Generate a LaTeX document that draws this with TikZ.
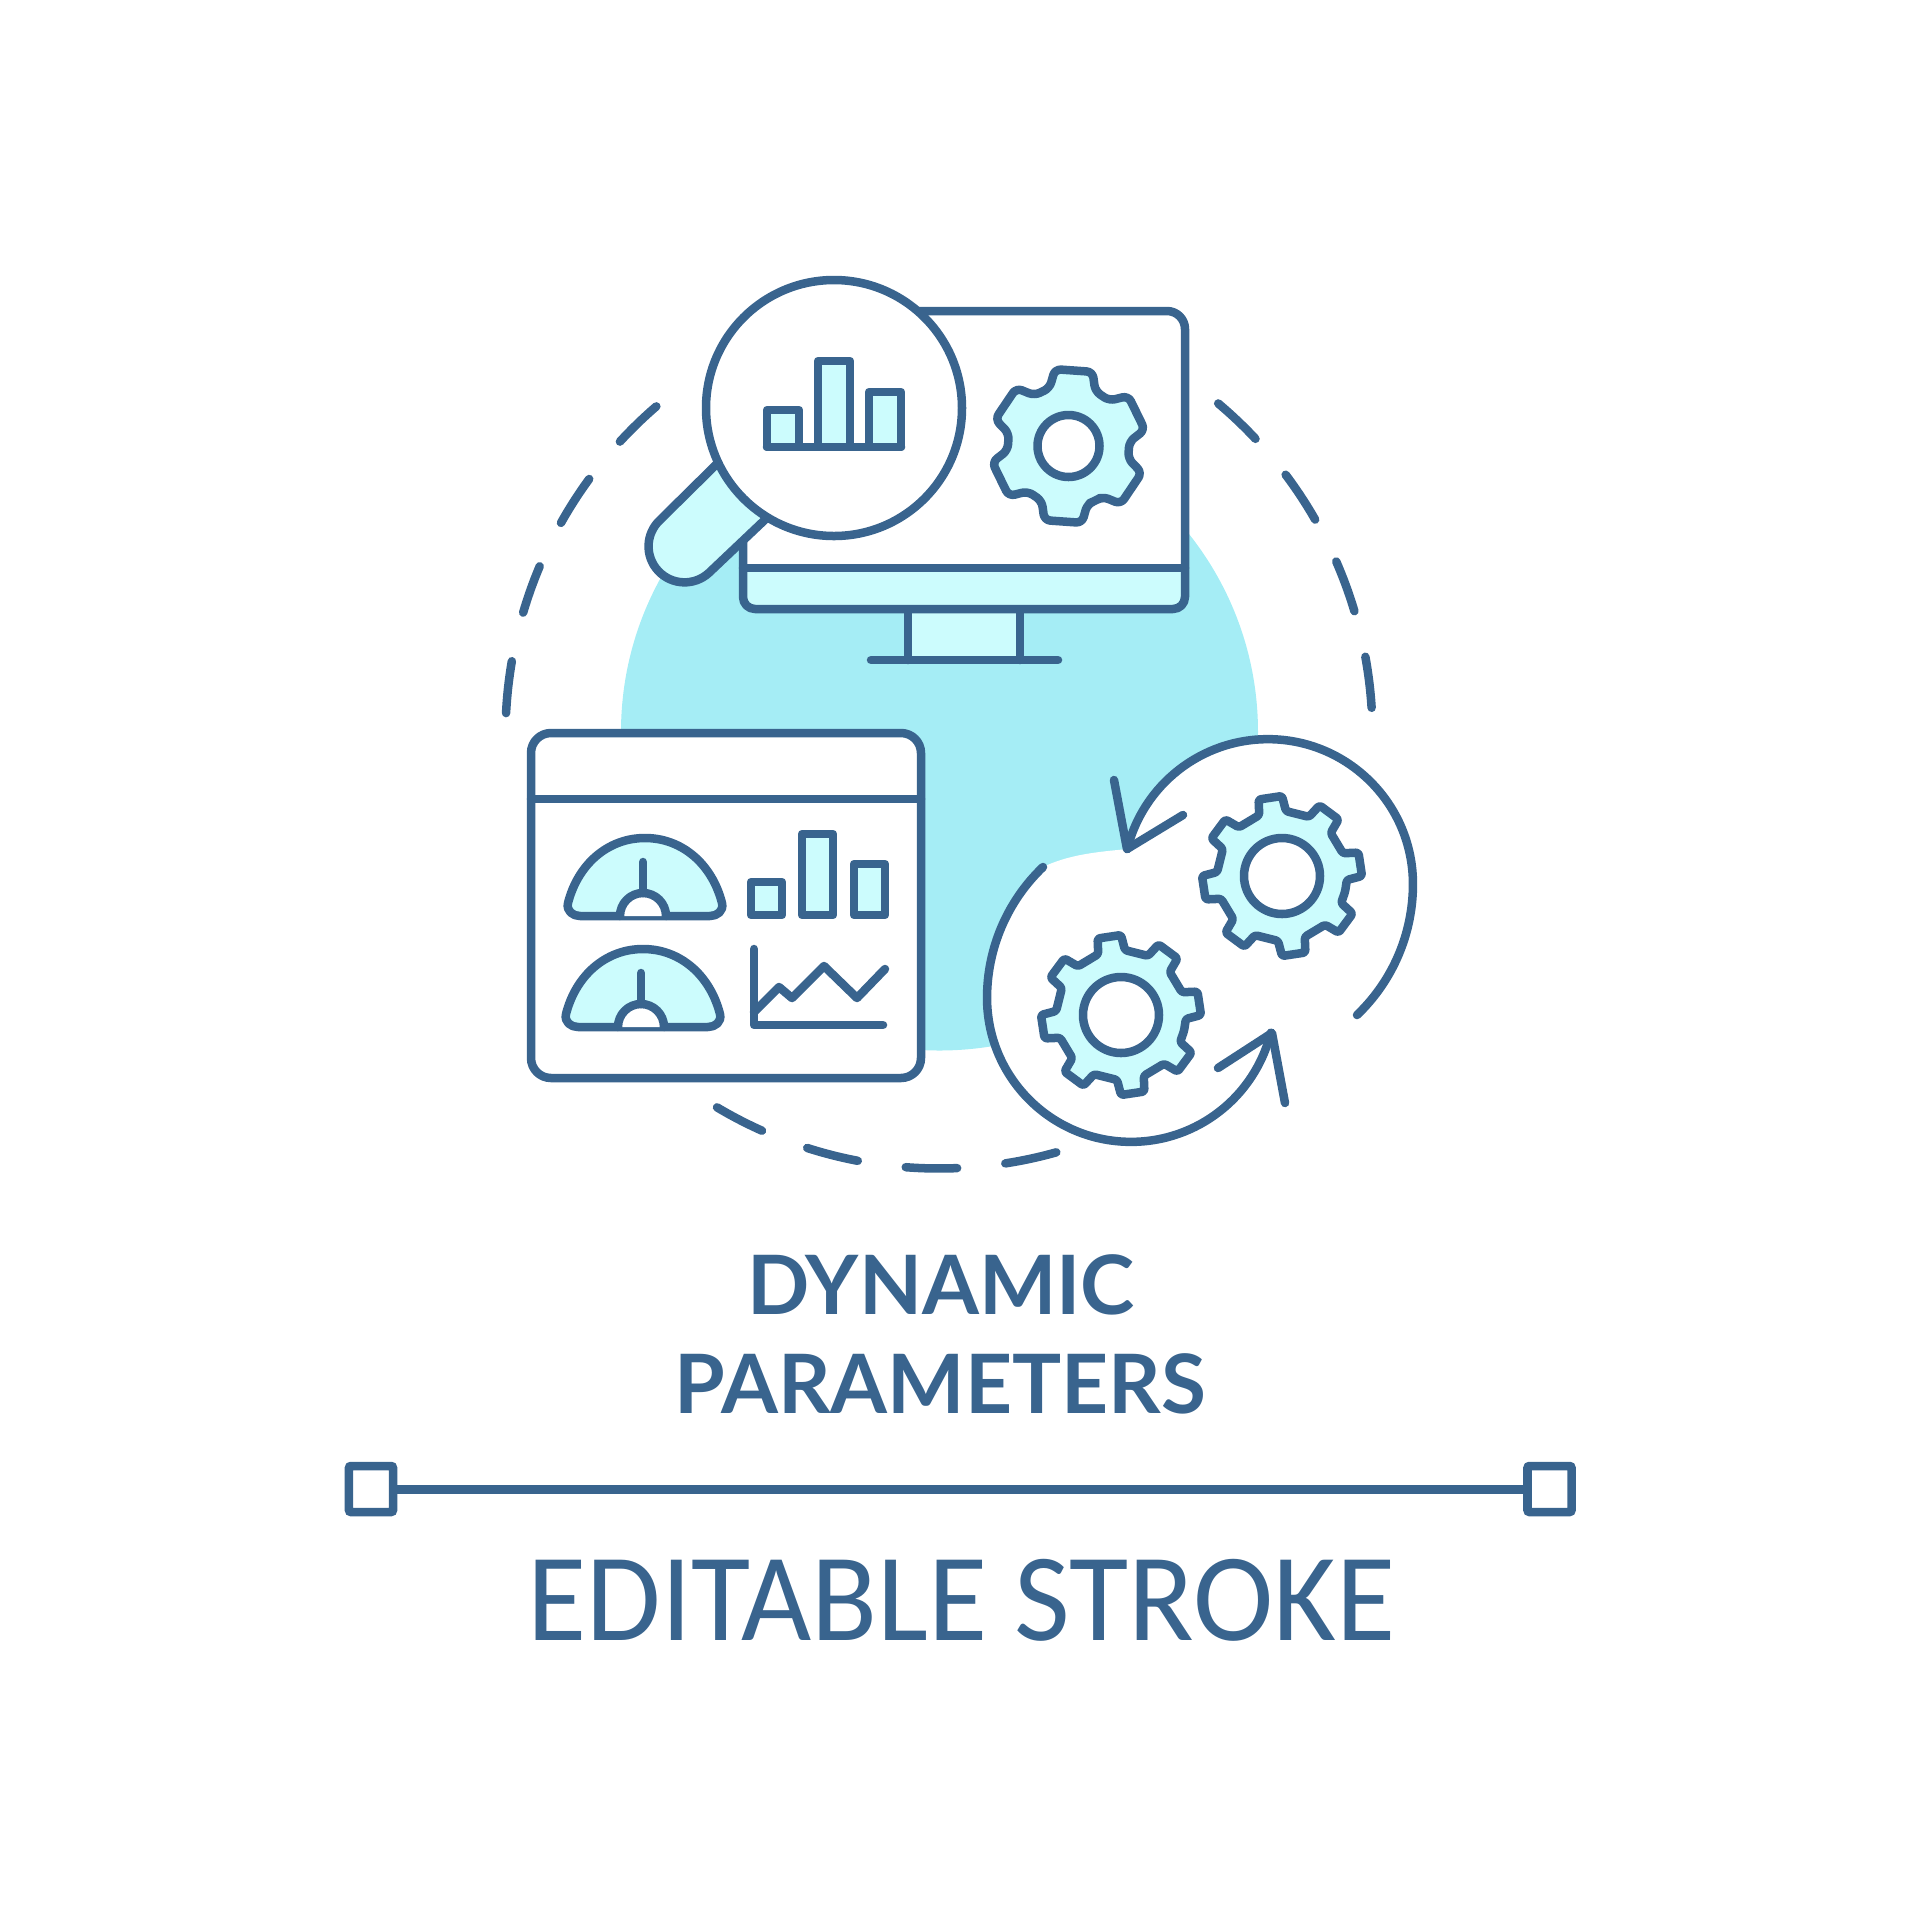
\documentclass[tikz,border=0pt]{standalone}
\usepackage{fontspec}
\setmainfont{Lato}
\newfontfamily\notefont[FakeStretch=0.968]{Carlito}
\definecolor{inkblue}{HTML}{39648E}
\definecolor{softcyan}{HTML}{CCFCFD}
\definecolor{blobcyan}{HTML}{A5EDF5}
\newcommand{\screenpath}{(743,480) [rounded corners=0.18cm] -- (743,311) -- (1185,311) -- (1185,480) [rounded corners=0.12cm] -- (1185,609) -- (743,609) -- cycle}
\newcommand{\lowerarc}{arc[start angle=226.3,end angle=180,radius=181] arc[start angle=180,end angle=14,radius=144]}
\newcommand{\upperarc}{arc[start angle=46.3,end angle=0,radius=181] arc[start angle=0,end angle=-166,radius=145]}
\tikzset{
 ln/.style
  = {draw=inkblue, line width=0.085cm, line cap=round, line join=round},
 bar/.style
  = {ln, fill=softcyan, line cap=butt},
 grip/.style
  = {rectangle, draw=inkblue, line width=0.085cm, fill=white, inner sep=0pt,
     minimum width=0.44cm, minimum height=0.46cm, rounded corners=0.02cm},
 heading/.style
  = {anchor=base, text=inkblue, inner sep=0pt, font=\fontsize{23.3}{28}\selectfont\bfseries},
 note/.style
  = {anchor=base, text=inkblue, inner sep=0pt, font=\fontsize{35.6}{40}\selectfont\notefont},
}

\begin{document}
\begin{tikzpicture}[x=0.01cm,y=-0.01cm]
\useasboundingbox (0,0) rectangle (1920,1920);

% Backdrop
\fill[blobcyan] (939.5,732) circle[radius=318.5];
\fill[white] (1043,867) \lowerarc -- (1357,1015) \upperarc
    .. controls (1095,852) and (1068,855) .. (1043,867) -- cycle;

% Dashed ring
\foreach \sa/\ea in {182.9/189.8,196.4/202.9,209.3/216.2,222.6/229.3,
    310.1/316.9,323.1/330.2,336.4/343.4,349.6/356.4,
    120.8/114.1,107.7/100.8,94.4/87.6,81.2/74.3}
    \draw[ln] (939,735) ++(\sa:433.5) arc[start angle=\sa,end angle=\ea,radius=433.5];

% Monitor stand
\fill[softcyan] (908,609) rectangle (1020,660);
\draw[ln] (908,609) -- (908,660);
\draw[ln] (1020,609) -- (1020,660);
\draw[ln] (871,660) -- (1058,660);

% Monitor
\fill[white] \screenpath;
\begin{scope}
    \clip (730,568) rectangle (1200,620);
    \fill[softcyan] \screenpath;
\end{scope}
\draw[ln] \screenpath;
\draw[ln] (743,568) -- (1185,568);

% Gear on the screen
\draw[ln,fill=softcyan,rounded corners=0.06cm,shift={(1068.5,446)},rotate=-4]
    (60:61) \foreach \a in {90,150,...,390} {-- (\a-22:61) -- (\a-14:78) -- (\a+14:78) -- (\a+22:61)} -- cycle;
\draw[ln,fill=white] (1068.5,446) circle[radius=31];

% Magnifier
\draw[ln,fill=softcyan] (740,441) -- (660,520) arc[start angle=227,end angle=47,radius=36] -- (790,496) -- cycle;
\draw[ln,fill=white] (834,408) circle[radius=128];
\draw[bar] (767,447) rectangle (799,410);
\draw[bar] (818,447) rectangle (850,361);
\draw[bar] (869,447) rectangle (901,392);
\draw[ln] (767,447) -- (901,447);

% Panel
\draw[ln,fill=white,rounded corners=0.2cm] (531,733) rectangle (921,1078);
\draw[ln] (531,799) -- (921,799);

% Gauges
\foreach \gx/\gy in {645/916,643/1027} {
\begin{scope}[shift={(\gx,\gy)}]
    \draw[ln,fill=softcyan] (-77,-13) .. controls (-67,-52) and (-37,-78) .. (0,-78)
        .. controls (37,-78) and (67,-52) .. (77,-13)
        .. controls (79,-5) and (72,0) .. (65,0) -- (-65,0)
        .. controls (-72,0) and (-79,-5) .. (-77,-13) -- cycle;
    \draw[ln,fill=white] (-25,0) arc[start angle=180,end angle=360,radius=23];
    \draw[ln] (-2,-23) -- (-2,-54);
\end{scope}
}

% Bars of the panel
\draw[bar] (751,915) rectangle (782,882);
\draw[bar] (802,915) rectangle (833,834);
\draw[bar] (854,915) rectangle (885,864);

% Line chart
\draw[ln] (754,949) -- (754,1025) -- (883,1025);
\draw[ln] (754,1012) -- (779,987) -- (792,998) -- (824,966) -- (857,998) -- (885,969);

% Arrows round the gears
\draw[ln] (1357,1015) \upperarc;
\draw[ln] (1114,780) -- (1127,849) -- (1183,815);
\draw[ln] (1043,867) \lowerarc;
\draw[ln] (1218,1068) -- (1272,1033) -- (1285,1103);

% Gears
\foreach \cx/\cy in {1282/876,1121/1015} {
    \draw[ln,fill=softcyan,rounded corners=0.025cm,shift={(\cx,\cy)},rotate=8.5]
        (22.5:65) \foreach \a in {45,90,...,360} {-- (\a-12:65) -- (\a-8.5:80) -- (\a+8.5:80) -- (\a+12:65)} -- cycle;
    \draw[ln,fill=white] (\cx,\cy) circle[radius=38];
}

% Labels
\node[heading] (dyn) at (941,1314) {DYNAMIC};
\node[heading] (par) at (940.5,1413) {PARAMETERS};
\node[note] (edit) at (961.5,1640) {EDITABLE STROKE};

% Slider
\node[grip] (gripl) at (371,1489) {};
\node[grip] (gripr) at (1549.5,1489) {};
\draw[draw=inkblue,line width=0.09cm] (gripl) -- (gripr);

\end{tikzpicture}
\end{document}
